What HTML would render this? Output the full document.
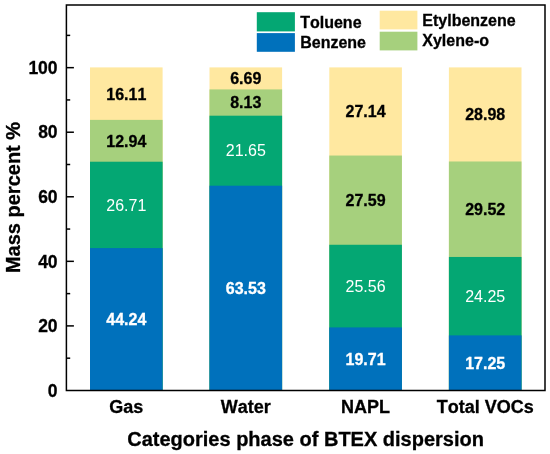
<!DOCTYPE html>
<html><head><meta charset="utf-8"><style>
html,body{margin:0;padding:0;background:#fff;}
svg{display:block;}
text{font-family:"Liberation Sans",Arial,sans-serif;font-kerning:none;}
text[font-weight="bold"]{stroke:#000;stroke-width:0.3px;}
text.w[font-weight="bold"]{stroke:#fff;}
</style></head><body>
<svg width="550" height="454" viewBox="0 0 550 454">
<rect width="550" height="454" fill="#fff"/>
<rect x="90.00" y="67.40" width="72.60" height="323.00" fill="#FFE8A0"/>
<rect x="90.00" y="119.87" width="72.60" height="270.53" fill="#A6D07D"/>
<rect x="90.00" y="161.72" width="72.60" height="228.68" fill="#04A773"/>
<rect x="90.00" y="248.10" width="72.60" height="142.30" fill="#0071BC"/>
<text class="w" x="126.30" y="325.36" fill="#fff" font-weight="bold" font-size="16" text-anchor="middle">44.24</text>
<text class="w" x="126.30" y="210.64" fill="#fff" font-weight="normal" font-size="16" text-anchor="middle">26.71</text>
<text x="126.30" y="146.52" fill="#000" font-weight="bold" font-size="16" text-anchor="middle">12.94</text>
<text x="126.30" y="99.55" fill="#000" font-weight="bold" font-size="16" text-anchor="middle">16.11</text>
<text x="126.30" y="413.0" font-weight="bold" font-size="18" text-anchor="middle">Gas</text>
<rect x="209.50" y="67.40" width="72.60" height="323.00" fill="#FFE8A0"/>
<rect x="209.50" y="89.41" width="72.60" height="300.99" fill="#A6D07D"/>
<rect x="209.50" y="115.70" width="72.60" height="274.70" fill="#04A773"/>
<rect x="209.50" y="185.71" width="72.60" height="204.69" fill="#0071BC"/>
<text class="w" x="245.80" y="294.17" fill="#fff" font-weight="bold" font-size="16" text-anchor="middle">63.53</text>
<text class="w" x="245.80" y="156.43" fill="#fff" font-weight="normal" font-size="16" text-anchor="middle">21.65</text>
<text x="245.80" y="108.28" fill="#000" font-weight="bold" font-size="16" text-anchor="middle">8.13</text>
<text x="245.80" y="84.32" fill="#000" font-weight="bold" font-size="16" text-anchor="middle">6.69</text>
<text x="245.80" y="413.0" font-weight="bold" font-size="18" text-anchor="middle">Water</text>
<rect x="329.30" y="67.40" width="72.60" height="323.00" fill="#FFE8A0"/>
<rect x="329.30" y="155.54" width="72.60" height="234.86" fill="#A6D07D"/>
<rect x="329.30" y="244.77" width="72.60" height="145.63" fill="#04A773"/>
<rect x="329.30" y="327.43" width="72.60" height="62.97" fill="#0071BC"/>
<text class="w" x="365.60" y="365.03" fill="#fff" font-weight="bold" font-size="16" text-anchor="middle">19.71</text>
<text class="w" x="365.60" y="291.83" fill="#fff" font-weight="normal" font-size="16" text-anchor="middle">25.56</text>
<text x="365.60" y="205.88" fill="#000" font-weight="bold" font-size="16" text-anchor="middle">27.59</text>
<text x="365.60" y="117.38" fill="#000" font-weight="bold" font-size="16" text-anchor="middle">27.14</text>
<text x="365.60" y="413.0" font-weight="bold" font-size="18" text-anchor="middle">NAPL</text>
<rect x="448.90" y="67.40" width="72.60" height="323.00" fill="#FFE8A0"/>
<rect x="448.90" y="161.49" width="72.60" height="228.91" fill="#A6D07D"/>
<rect x="448.90" y="256.96" width="72.60" height="133.44" fill="#04A773"/>
<rect x="448.90" y="335.38" width="72.60" height="55.02" fill="#0071BC"/>
<text class="w" x="485.20" y="369.00" fill="#fff" font-weight="bold" font-size="16" text-anchor="middle">17.25</text>
<text class="w" x="485.20" y="301.90" fill="#fff" font-weight="normal" font-size="16" text-anchor="middle">24.25</text>
<text x="485.20" y="214.95" fill="#000" font-weight="bold" font-size="16" text-anchor="middle">29.52</text>
<text x="485.20" y="120.36" fill="#000" font-weight="bold" font-size="16" text-anchor="middle">28.98</text>
<text x="485.20" y="413.0" font-weight="bold" font-size="18" text-anchor="middle">Total VOCs</text>
<path d="M66.4 5.0H545.0V390.4H66.4Z" fill="none" stroke="#000" stroke-width="1.5"/>
<path d="M66.4 358.18h3.8" stroke="#000" stroke-width="1.5"/>
<path d="M66.4 325.90h7.5" stroke="#000" stroke-width="1.5"/>
<path d="M66.4 293.62h3.8" stroke="#000" stroke-width="1.5"/>
<path d="M66.4 261.34h7.5" stroke="#000" stroke-width="1.5"/>
<path d="M66.4 229.06h3.8" stroke="#000" stroke-width="1.5"/>
<path d="M66.4 196.78h7.5" stroke="#000" stroke-width="1.5"/>
<path d="M66.4 164.50h3.8" stroke="#000" stroke-width="1.5"/>
<path d="M66.4 132.22h7.5" stroke="#000" stroke-width="1.5"/>
<path d="M66.4 99.94h3.8" stroke="#000" stroke-width="1.5"/>
<path d="M66.4 67.66h7.5" stroke="#000" stroke-width="1.5"/>
<path d="M66.4 35.38h3.8" stroke="#000" stroke-width="1.5"/>
<text x="57.6" y="396.72" font-weight="bold" font-size="17.5" text-anchor="end">0</text>
<text x="57.6" y="332.16" font-weight="bold" font-size="17.5" text-anchor="end">20</text>
<text x="57.6" y="267.60" font-weight="bold" font-size="17.5" text-anchor="end">40</text>
<text x="57.6" y="203.04" font-weight="bold" font-size="17.5" text-anchor="end">60</text>
<text x="57.6" y="138.48" font-weight="bold" font-size="17.5" text-anchor="end">80</text>
<text x="57.6" y="73.92" font-weight="bold" font-size="17.5" text-anchor="end">100</text>
<rect x="256.8" y="12.2" width="38.1" height="19.2" fill="#04A773"/>
<rect x="256.8" y="33.1" width="38.1" height="18.7" fill="#0071BC"/>
<rect x="379.7" y="10.7" width="37.7" height="18.7" fill="#FFE8A0"/>
<rect x="379.7" y="31.7" width="37.7" height="18.7" fill="#A6D07D"/>
<text x="300.2" y="27.7" font-weight="bold" font-size="16">Toluene</text>
<text x="300.2" y="48.1" font-weight="bold" font-size="16">Benzene</text>
<text x="422.3" y="25.5" font-weight="bold" font-size="16">Etylbenzene</text>
<text x="422.3" y="46.3" font-weight="bold" font-size="16">Xylene-o</text>

<text x="305.6" y="445.6" font-weight="bold" font-size="20" text-anchor="middle">Categories phase of BTEX dispersion</text>
<text transform="translate(19.8 197.5) rotate(-90)" x="0" y="0" font-weight="bold" font-size="20" text-anchor="middle">Mass percent %</text>

</svg>
</body></html>
